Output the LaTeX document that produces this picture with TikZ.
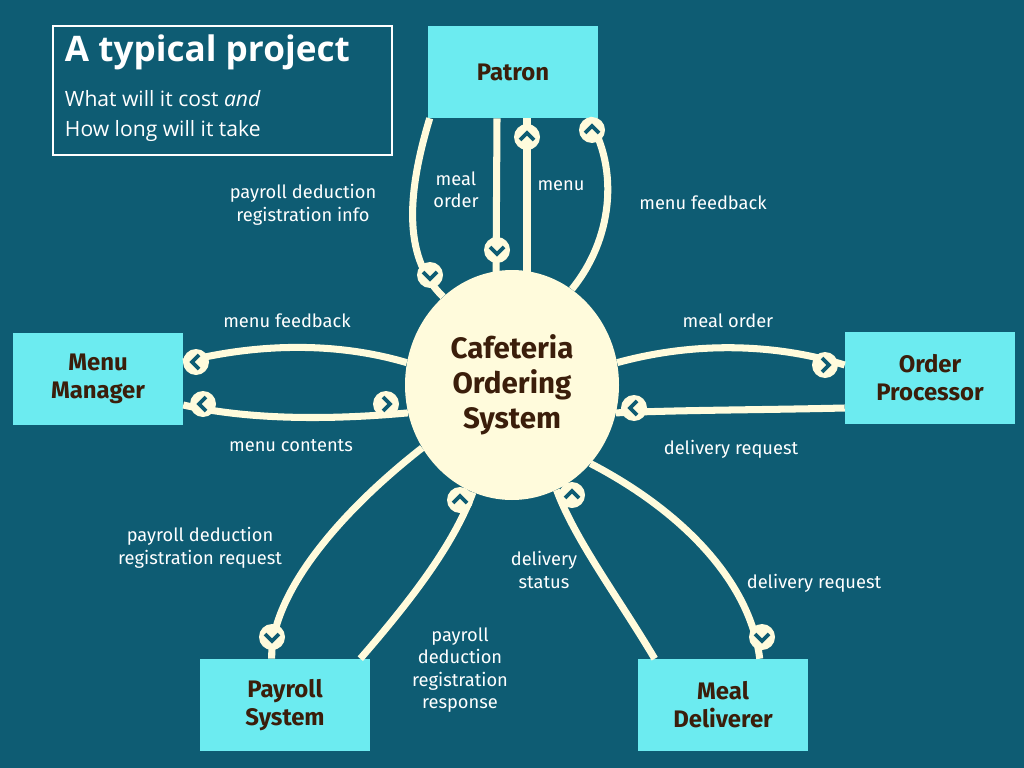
\documentclass[tikz,border=0pt]{standalone}
\usepackage{fontspec}
\setmainfont{Fira Sans}
\newfontfamily\titlefont{Open Sans}
\usetikzlibrary{calc,shapes.geometric}
\definecolor{bg}{HTML}{0E5C73}
\definecolor{boxc}{HTML}{6CEBF0}
\definecolor{cream}{HTML}{FFFBDC}
\definecolor{ink}{HTML}{3B1E0B}
\tikzset{
  ent/.style={fill=boxc,minimum width=170*0.025cm,minimum height=92*0.025cm,align=center,text=ink,font=\fontsize{17}{20}\selectfont\bfseries},
  flow/.style={draw=cream,line width=5pt},
  lbl/.style={text=white,align=center,font=\fontsize{13}{16}\selectfont},
  mk/.pic={\fill[cream] (0,0) circle [radius=13]; \draw[bg,line width=2.6pt] (-3,-7)--(4,0)--(-3,7);}
}
\begin{document}
\begin{tikzpicture}[x=0.025cm,y=-0.025cm]
\fill[bg] (0,0) rectangle (1024,768);
\useasboundingbox (0,0) rectangle (1024,768);

% title
\draw[white,line width=1.5pt] (53,26) rectangle (392,155);
\node[anchor=west,text=white,font=\titlefont\fontsize{25}{30}\selectfont\bfseries] (title) at (60,52) {A typical project};
\node[anchor=north west,text=white,align=left,font=\titlefont\fontsize{15}{21}\selectfont] (sub) at (60,86) {What will it cost \textit{and}\\How long will it take};

% entities
\node[ent] (patron) at (513,72) {Patron};
\node[ent] (mm) at (98,379) {Menu\\Manager};
\node[ent] (op) at (930,378) {Order\\Processor};
\node[ent] (pay) at (285,705) {Payroll\\System};
\node[ent] (md) at (723,705) {Meal\\Deliverer};
\node[ellipse,fill=cream,minimum width=214*0.025cm,minimum height=230*0.025cm,inner sep=0pt,align=center,text=ink,font=\fontsize{21}{25}\selectfont\bfseries] (sys) at (512,385) {Cafeteria\\Ordering\\System};

% flows
\draw[flow] ($(patron.south west)+(2,0)$) .. controls (405,200) and (405,260) .. (sys.128);
\draw[flow] ($(patron.south)+(-16,0)$) -- ($(sys.north)+(-16,8)$);
\draw[flow] ($(sys.north)+(15,2)$) -- ($(patron.south)+(14,0)$);
\draw[flow] (sys.58) .. controls (612,240) and (620,170) .. ($(patron.south east)+(-10,0)$);
\draw[flow] (sys.168) .. controls (330,340) and (250,345) .. ($(mm.east)+(0,-17)$);
\draw[flow] ($(mm.east)+(0,26)$) .. controls (250,420) and (330,420) .. (sys.195);
\draw[flow] (sys.12) .. controls (700,340) and (780,345) .. ($(op.west)+(0,-13)$);
\draw[flow] ($(op.west)+(0,30)$) .. controls (760,410) and (680,410) .. (sys.-15);
\draw[flow] (sys.215) .. controls (330,520) and (270,600) .. ($(pay.north west)+(72,0)$);
\draw[flow] ($(pay.north east)+(-10,0)$) .. controls (420,590) and (455,540) .. (sys.250);
\draw[flow] ($(md.north west)+(17,0)$) .. controls (620,600) and (575,540) .. (sys.293);
\draw[flow] (sys.315) .. controls (680,510) and (750,580) .. ($(md.north west)+(122,0)$);

% markers
\pic[rotate=-90] at (430,275) {mk};
\pic[rotate=-90] at (497,250) {mk};
\pic[rotate=90] at (527,137) {mk};
\pic[rotate=90] at (592,130) {mk};
\pic[rotate=180] at (196,362) {mk};
\pic[rotate=180] at (203,404) {mk};
\pic at (386,404) {mk};
\pic at (825,365) {mk};
\pic[rotate=180] at (634,408) {mk};
\pic[rotate=-90] at (272,637) {mk};
\pic[rotate=90] at (460,500) {mk};
\pic[rotate=90] at (572,495) {mk};
\pic[rotate=-90] at (762,637) {mk};

% labels
\node[lbl] (l1) at (303,205) {payroll deduction\\registration info};
\node[lbl] (l2) at (456,190) {meal\\order};
\node[lbl] (l3) at (561,186) {menu};
\node[lbl] (l4) at (703,203) {menu feedback};
\node[lbl] (l5) at (287,321) {menu feedback};
\node[lbl] (l6) at (291,446) {menu contents};
\node[lbl] (l7) at (728,321) {meal order};
\node[lbl] (l8) at (731,449) {delivery request};
\node[lbl] (l9) at (200,548) {payroll deduction\\registration request};
\node[lbl] (l10) at (460,670) {payroll\\deduction\\registration\\response};
\node[lbl] (l11) at (544,570) {delivery\\status};
\node[lbl] (l12) at (814,583) {delivery request};
\end{tikzpicture}
\end{document}
